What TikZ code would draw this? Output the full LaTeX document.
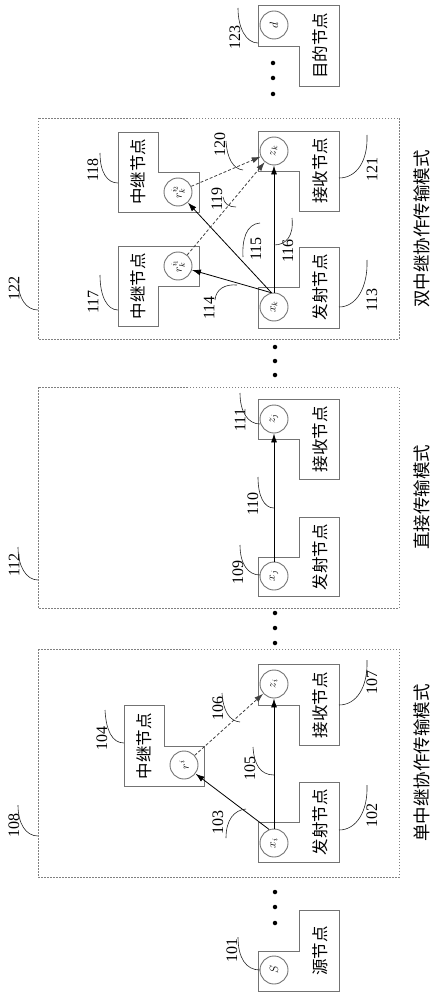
\documentclass[tikz,border=0pt]{standalone}
\usepackage{graphicx}
\usepackage{fontspec}
\setmainfont{Liberation Serif}
\newfontfamily\cjkfont{Noto Sans CJK SC}
\usetikzlibrary{arrows.meta}
\begin{document}
\begin{tikzpicture}[x=1pt,y=-1pt,
  blk/.style={draw=black!55, line width=0.9pt},
  cir/.style={circle, draw=black!55, line width=0.9pt, minimum size=28pt, inner sep=0pt, font=\fontsize{12}{12}\selectfont},
  cjk/.style={font=\cjkfont\fontsize{16.5}{16.5}\selectfont, rotate=90, inner sep=0pt},
  modelbl/.style={font=\cjkfont\fontsize{17.5}{17.5}\selectfont, rotate=90, inner sep=0pt},
  num/.style={font=\fontsize{16}{16}\selectfont, rotate=90, inner sep=0pt},
  lead/.style={draw=black!85, line width=0.6pt},
  arr/.style={draw=black, line width=0.8pt, -{Latex[length=9pt,width=6pt]}},
  darr/.style={arr, draw=black!75, dash pattern=on 3pt off 2pt},
  modebox/.style={draw=black!50, line width=0.8pt, dash pattern=on 1.5pt off 1.5pt},
  dotn/.style={circle, fill=black, inner sep=0pt, minimum size=4.5pt}]
\useasboundingbox (0,0) rectangle (439,1000);

% ---------- mode boxes ----------
\draw[modebox] (38,649) rectangle (399,877);
\draw[modebox] (38,387) rectangle (399,608);
\draw[modebox] (38,118) rectangle (399,339);

% ---------- L-shaped blocks ----------
\draw[blk] (258,991) -- (258,951) -- (299,951) -- (299,910) -- (339,910) -- (339,991) -- cycle;
\draw[blk] (258,862) -- (258,822) -- (299,822) -- (299,782) -- (339,782) -- (339,862) -- cycle;
\draw[blk] (258,664) -- (339,664) -- (339,745) -- (299,745) -- (299,705) -- (258,705) -- cycle;
\draw[blk] (124,705) -- (164,705) -- (164,746) -- (204,746) -- (204,786) -- (124,786) -- cycle;
\draw[blk] (258,596) -- (258,557) -- (299,557) -- (299,517) -- (339,517) -- (339,596) -- cycle;
\draw[blk] (258,399) -- (339,399) -- (339,479) -- (299,479) -- (299,439) -- (258,439) -- cycle;
\draw[blk] (258,328) -- (258,287) -- (299,287) -- (299,247) -- (339,247) -- (339,328) -- cycle;
\draw[blk] (258,131) -- (339,131) -- (339,211) -- (299,211) -- (299,171) -- (258,171) -- cycle;
\draw[blk] (118,246) -- (199,246) -- (199,286) -- (158,286) -- (158,326) -- (118,326) -- cycle;
\draw[blk] (118,132) -- (158,132) -- (158,172) -- (199,172) -- (199,212) -- (118,212) -- cycle;
\draw[blk] (258,5) -- (339,5) -- (339,86) -- (299,86) -- (299,46) -- (258,46) -- cycle;

% ---------- block texts ----------
\node[cjk] (t101) at (320,951) {源节点};
\node[cjk] (t102) at (320,822) {发射节点};
\node[cjk] (t107) at (320,705) {接收节点};
\node[cjk] (t104) at (144,746) {中继节点};
\node[cjk] (t109) at (320,557) {发射节点};
\node[cjk] (t111) at (320,439) {接收节点};
\node[cjk] (t113) at (320,287) {发射节点};
\node[cjk] (t121) at (320,171) {接收节点};
\node[cjk] (t117) at (138,286) {中继节点};
\node[cjk] (t118) at (138,172) {中继节点};
\node[cjk] (t123) at (320,46) {目的节点};

\node[modelbl] (m1) at (422,763) {单中继协作传输模式};
\node[modelbl] (m2) at (422,497) {直接传输模式};
\node[modelbl] (m3) at (422,229) {双中继协作传输模式};

% ---------- circles ----------
\node[cir] (S)  at (274,970) {\rotatebox{90}{$S$}};
\node[cir] (xi) at (274,843) {\rotatebox{90}{$x_i$}};
\node[cir] (ri) at (184,765) {\rotatebox{90}{$r^i$}};
\node[cir] (zi) at (274,684) {\rotatebox{90}{$z_i$}};
\node[cir] (xj) at (274,576) {\rotatebox{90}{$x_j$}};
\node[cir] (zj) at (274,419) {\rotatebox{90}{$z_j$}};
\node[cir] (xk) at (274,307) {\rotatebox{90}{$x_k$}};
\node[cir] (r1) at (178,266) {\rotatebox{90}{$r_k^{i_1}$}};
\node[cir] (r2) at (178,192) {\rotatebox{90}{$r_k^{i_2}$}};
\node[cir] (zk) at (274,151) {\rotatebox{90}{$z_k$}};
\node[cir] (d)  at (274,25)  {\rotatebox{90}{$d$}};

% ---------- arrows ----------
\draw[arr] (xi.north) -- (zi.south);
\draw[arr] (xi.110) -- (ri);
\draw[darr] (ri) -- (zi);
\draw[arr] (xj.north) -- (zj.south);
\draw[arr] (xk.north) -- (zk.south);
\draw[arr] (xk.100) -- (r1);
\draw[arr] (xk.100) -- (r2);
\draw[darr] (r1) -- (zk);
\draw[darr] (r2) -- (zk);

% ---------- dots ----------
\foreach \yy [count=\n] in {892,907,923} \node[dotn] (da\n) at (275,\yy) {};
\foreach \yy [count=\n] in {613,628,643} \node[dotn] (db\n) at (275,\yy) {};
\foreach \yy [count=\n] in {347,361,375} \node[dotn] (dc\n) at (275,\yy) {};
\foreach \yy [count=\n] in {63,78,94} \node[dotn] (dd\n) at (273,\yy) {};

% ---------- reference numbers ----------
\node[num] (n101) at (232,950) {101};
\node[num] (n102) at (372,815) {102};
\node[num] (n103) at (218,822) {103};
\node[num] (n104) at (102,738) {104};
\node[num] (n105) at (250,768) {105};
\node[num] (n106) at (218,708) {106};
\node[num] (n107) at (372,682) {107};
\node[num] (n108) at (14,825) {108};
\node[num] (n109) at (238,572) {109};
\node[num] (n110) at (253,504) {110};
\node[num] (n111) at (240,420) {111};
\node[num] (n112) at (14,565) {112};
\node[num] (n113) at (372,300) {113};
\node[num] (n114) at (209,308) {114};
\node[num] (n115) at (256,249) {115};
\node[num] (n116) at (288,251) {116};
\node[num] (n117) at (93,302) {117};
\node[num] (n118) at (93,170) {118};
\node[num] (n119) at (217,199) {119};
\node[num] (n120) at (220,145) {120};
\node[num] (n121) at (372,170) {121};
\node[num] (n122) at (14,288) {122};
\node[num] (n123) at (235,38) {123};

% ---------- leader curves ----------
\draw[lead] (238,937) .. controls (238,958) and (246,970) .. (260,970);
\draw[lead] (367,785) .. controls (368,812) and (356,830) .. (339,830);
\draw[lead] (226,838) .. controls (226,820) and (234,810) .. (246,809);
\draw[lead] (105,710) .. controls (106,730) and (112,743) .. (124,743);
\draw[lead] (253,747) .. controls (254,764) and (260,775) .. (274,775);
\draw[lead] (222,693) .. controls (223,710) and (229,721) .. (240,722);
\draw[lead] (367,660) .. controls (368,688) and (356,705) .. (339,705);
\draw[lead] (18,805) .. controls (18,824) and (26,836) .. (38,836);
\draw[lead] (240,545) .. controls (240,564) and (248,575) .. (260,575);
\draw[lead] (258,477) .. controls (258,496) and (264,508) .. (274,508);
\draw[lead] (240,393) .. controls (240,412) and (248,424) .. (260,424);
\draw[lead] (18,547) .. controls (18,566) and (26,580) .. (38,580);
\draw[lead] (367,260) .. controls (368,288) and (356,307) .. (339,307);
\draw[lead] (215,300) .. controls (216,289) and (225,284) .. (237,285);
\draw[lead] (260,223) .. controls (246,224) and (242,240) .. (243,257);
\draw[lead] (292,218) .. controls (294,236) and (286,245) .. (274,245);
\draw[lead] (100,275) .. controls (100,296) and (107,310) .. (118,310);
\draw[lead] (100,153) .. controls (100,172) and (107,183) .. (118,183);
\draw[lead] (223,197) .. controls (224,204) and (229,207) .. (236,207);
\draw[lead] (226,141) .. controls (227,158) and (233,169) .. (243,170);
\draw[lead] (367,135) .. controls (368,162) and (356,178) .. (339,178);
\draw[lead] (18,280) .. controls (18,298) and (26,310) .. (38,310);
\draw[lead] (238,8) .. controls (238,28) and (246,43) .. (258,43);
\end{tikzpicture}
\end{document}
